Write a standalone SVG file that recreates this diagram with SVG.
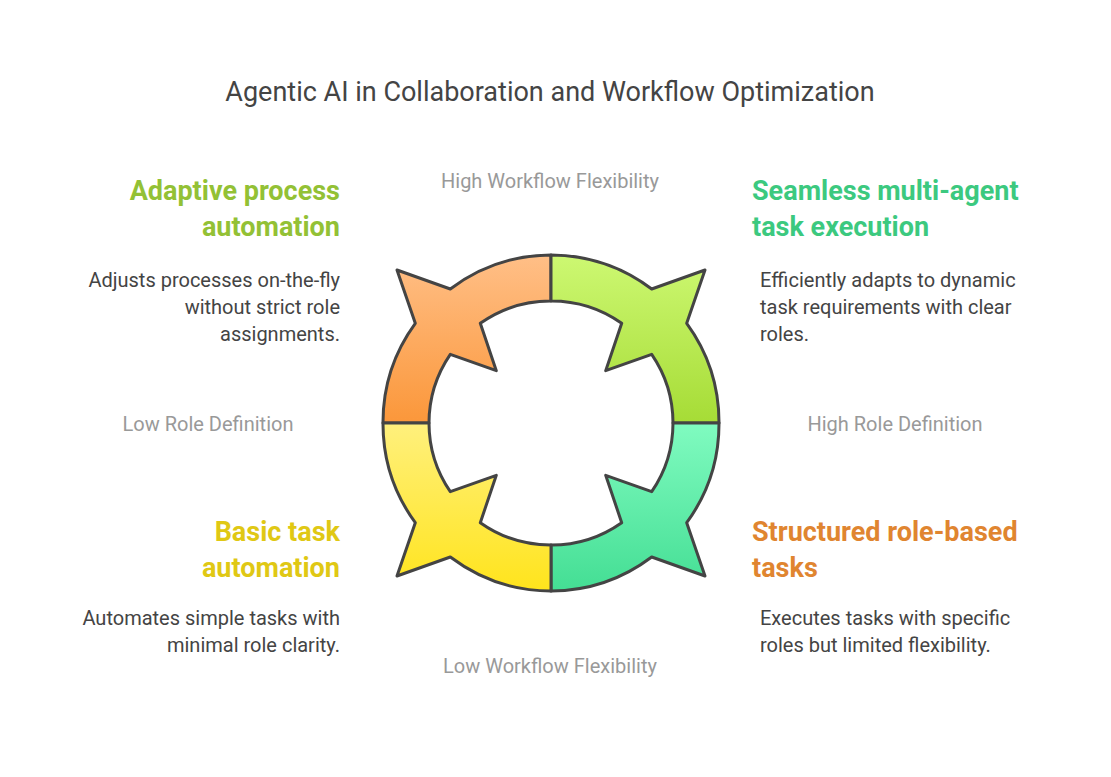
<svg xmlns="http://www.w3.org/2000/svg" width="1111" height="777" viewBox="0 0 1111 777">
<style>
text{font-family:Roboto,"Liberation Sans",sans-serif}
.t{font-size:27px;fill:#444}
.h{font-size:27px;font-weight:bold}
.b{font-size:20px;fill:#444}
.a{font-size:20px;fill:#999}
.s{stroke:#444;stroke-width:3;stroke-linejoin:round}
</style>
<defs>
<linearGradient id="gTL" x1="0" y1="0" x2="0" y2="1"><stop offset="0" stop-color="#ffbf87"/><stop offset="1" stop-color="#fb973a"/></linearGradient>
<linearGradient id="gTR" x1="0" y1="0" x2="0" y2="1"><stop offset="0" stop-color="#cdf872"/><stop offset="1" stop-color="#a6dc36"/></linearGradient>
<linearGradient id="gBR" x1="0" y1="0" x2="0" y2="1"><stop offset="0" stop-color="#80fbc0"/><stop offset="1" stop-color="#44de94"/></linearGradient>
<linearGradient id="gBL" x1="0" y1="0" x2="0" y2="1"><stop offset="0" stop-color="#fff07d"/><stop offset="1" stop-color="#ffe41c"/></linearGradient>
</defs>
<rect width="1111" height="777" fill="#fff"/>
<text class="t" x="550" y="101" text-anchor="middle">Agentic AI in Collaboration and Workflow Optimization</text>
<g id="ring">
<path id="q-tl" class="s" fill="url(#gTL)" d="M551,255 A168,168 0 0 0 450.3,289 L397,270 L415.3,323.3 A168,168 0 0 0 383,423 L429,423 A122,122 0 0 1 450.3,354.3 L496.3,370.7 L480.3,323.3 A122,122 0 0 1 551,301 Z"/>
<path id="q-tr" class="s" fill="url(#gTR)" d="M551,255 A168,168 0 0 1 651.7,289 L705,270 L686.7,323.3 A168,168 0 0 1 719,423 L673,423 A122,122 0 0 0 651.7,354.3 L605.7,370.7 L621.7,323.3 A122,122 0 0 0 551,301 Z"/>
<path id="q-br" class="s" fill="url(#gBR)" d="M551,591 A168,168 0 0 0 651.7,557 L705,576 L686.7,522.7 A168,168 0 0 0 719,423 L673,423 A122,122 0 0 1 651.7,491.7 L605.7,475.3 L621.7,522.7 A122,122 0 0 1 551,545 Z"/>
<path id="q-bl" class="s" fill="url(#gBL)" d="M551,591 A168,168 0 0 1 450.3,557 L397,576 L415.3,522.7 A168,168 0 0 1 383,423 L429,423 A122,122 0 0 0 450.3,491.7 L496.3,475.3 L480.3,522.7 A122,122 0 0 0 551,545 Z"/>
</g>
<g id="axes">
<text class="a" x="550" y="188" text-anchor="middle">High Workflow Flexibility</text>
<text class="a" x="550" y="673" text-anchor="middle">Low Workflow Flexibility</text>
<text class="a" x="208" y="431" text-anchor="middle">Low Role Definition</text>
<text class="a" x="895" y="431" text-anchor="middle">High Role Definition</text>
</g>
<g id="adaptive">
<text class="h" fill="#93c135" x="340" y="200" text-anchor="end">Adaptive process</text>
<text class="h" fill="#93c135" x="340" y="236" text-anchor="end">automation</text>
<text class="b" x="340" y="287" text-anchor="end">Adjusts processes on-the-fly</text>
<text class="b" x="340" y="314" text-anchor="end">without strict role</text>
<text class="b" x="340" y="341" text-anchor="end">assignments.</text>
</g>
<g id="seamless">
<text class="h" fill="#3cc97f" x="752" y="200">Seamless multi-agent</text>
<text class="h" fill="#3cc97f" x="752" y="236">task execution</text>
<text class="b" x="760" y="287">Efficiently adapts to dynamic</text>
<text class="b" x="760" y="314">task requirements with clear</text>
<text class="b" x="760" y="341">roles.</text>
</g>
<g id="basic">
<text class="h" fill="#e0c814" x="340" y="541" text-anchor="end">Basic task</text>
<text class="h" fill="#e0c814" x="340" y="577" text-anchor="end">automation</text>
<text class="b" x="340" y="625" text-anchor="end">Automates simple tasks with</text>
<text class="b" x="340" y="652" text-anchor="end">minimal role clarity.</text>
</g>
<g id="structured">
<text class="h" fill="#e08530" x="752" y="541">Structured role-based</text>
<text class="h" fill="#e08530" x="752" y="577">tasks</text>
<text class="b" x="760" y="625">Executes tasks with specific</text>
<text class="b" x="760" y="652">roles but limited flexibility.</text>
</g>
</svg>
